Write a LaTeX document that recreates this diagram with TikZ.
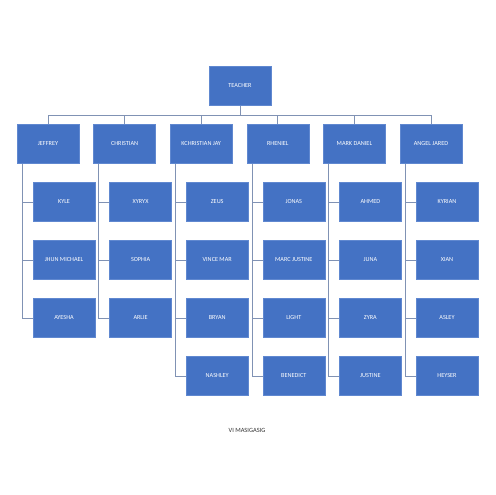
\documentclass[tikz,border=0pt]{standalone}
\usepackage{fontspec}
\setmainfont{Carlito}
\usepackage{xcolor}
\usepackage{tikz}
\usetikzlibrary{positioning}
\definecolor{boxblue}{RGB}{68,114,196}
\definecolor{boxedge}{RGB}{96,136,208}
\definecolor{linkgray}{RGB}{128,146,180}
\tikzstyle{member} = [rectangle,
minimum width=62pt,
minimum height=39pt,
text centered,
inner sep=1pt,
draw=boxedge,
line width=0.6pt,
fill=boxblue,
text=white,
font=\fontsize{6.2}{7}\selectfont]
\tikzstyle{link} = [draw=linkgray, line width=0.9pt]
\tikzstyle{caption} = [font=\fontsize{6.4}{7}\selectfont, text=black!80]

\begin{document}
\begin{tikzpicture}[node distance=58pt, x=1pt, y=1pt]
    \useasboundingbox (0,0) rectangle (495,495);

    \node (teacher) [member] at (240,409) {TEACHER};

    % group leaders
    \node (jeffrey) [member, below of=teacher, xshift=-192pt] {JEFFREY};
    \node (christian) [member, right of=jeffrey, xshift=18.6pt] {CHRISTIAN};
    \node (kchristian) [member, right of=christian, xshift=18.6pt] {KCHRISTIAN JAY};
    \node (rheniel) [member, right of=kchristian, xshift=18.6pt] {RHENIEL};
    \node (mark) [member, right of=rheniel, xshift=18.6pt] {MARK DANIEL};
    \node (angel) [member, right of=mark, xshift=18.6pt] {ANGEL JARED};

    % members
    \node (kyle) [member, below of=jeffrey, xshift=16pt] {KYLE};
    \node (jhun) [member, below of=kyle] {JHUN MICHAEL};
    \node (ayesha) [member, below of=jhun] {AYESHA};

    \node (xyryx) [member, below of=christian, xshift=16pt] {XYRYX};
    \node (sophia) [member, below of=xyryx] {SOPHIA};
    \node (arlie) [member, below of=sophia] {ARLIE};

    \node (zeus) [member, below of=kchristian, xshift=16pt] {ZEUS};
    \node (vince) [member, below of=zeus] {VINCE MAR};
    \node (bryan) [member, below of=vince] {BRYAN};
    \node (nashley) [member, below of=bryan] {NASHLEY};

    \node (jonas) [member, below of=rheniel, xshift=16pt] {JONAS};
    \node (marc) [member, below of=jonas] {MARC JUSTINE};
    \node (light) [member, below of=marc] {LIGHT};
    \node (benedict) [member, below of=light] {BENEDICT};

    \node (ahmed) [member, below of=mark, xshift=16pt] {AHMED};
    \node (juna) [member, below of=ahmed] {JUNA};
    \node (zyra) [member, below of=juna] {ZYRA};
    \node (justine) [member, below of=zyra] {JUSTINE};

    \node (kyrian) [member, below of=angel, xshift=16pt] {KYRIAN};
    \node (xian) [member, below of=kyrian] {XIAN};
    \node (asley) [member, below of=xian] {ASLEY};
    \node (heyser) [member, below of=asley] {HEYSER};

    \node (title) [caption] at (247,65) {VI MASIGASIG};

    % connectors
    \coordinate (bus) at (240,380);
    \draw [link] (teacher.south) -- (bus);
    \foreach \lead in {jeffrey, christian, kchristian, rheniel, mark, angel}
        \draw [link] (bus) -| (\lead.north);

    \foreach \lead/\kid in {jeffrey/kyle, jeffrey/jhun, jeffrey/ayesha,
        christian/xyryx, christian/sophia, christian/arlie,
        kchristian/zeus, kchristian/vince, kchristian/bryan, kchristian/nashley,
        rheniel/jonas, rheniel/marc, rheniel/light, rheniel/benedict,
        mark/ahmed, mark/juna, mark/zyra, mark/justine,
        angel/kyrian, angel/xian, angel/asley, angel/heyser}
        \draw [link] ([xshift=5.5pt]\lead.south west) |- (\kid.west);

\end{tikzpicture}
\end{document}
